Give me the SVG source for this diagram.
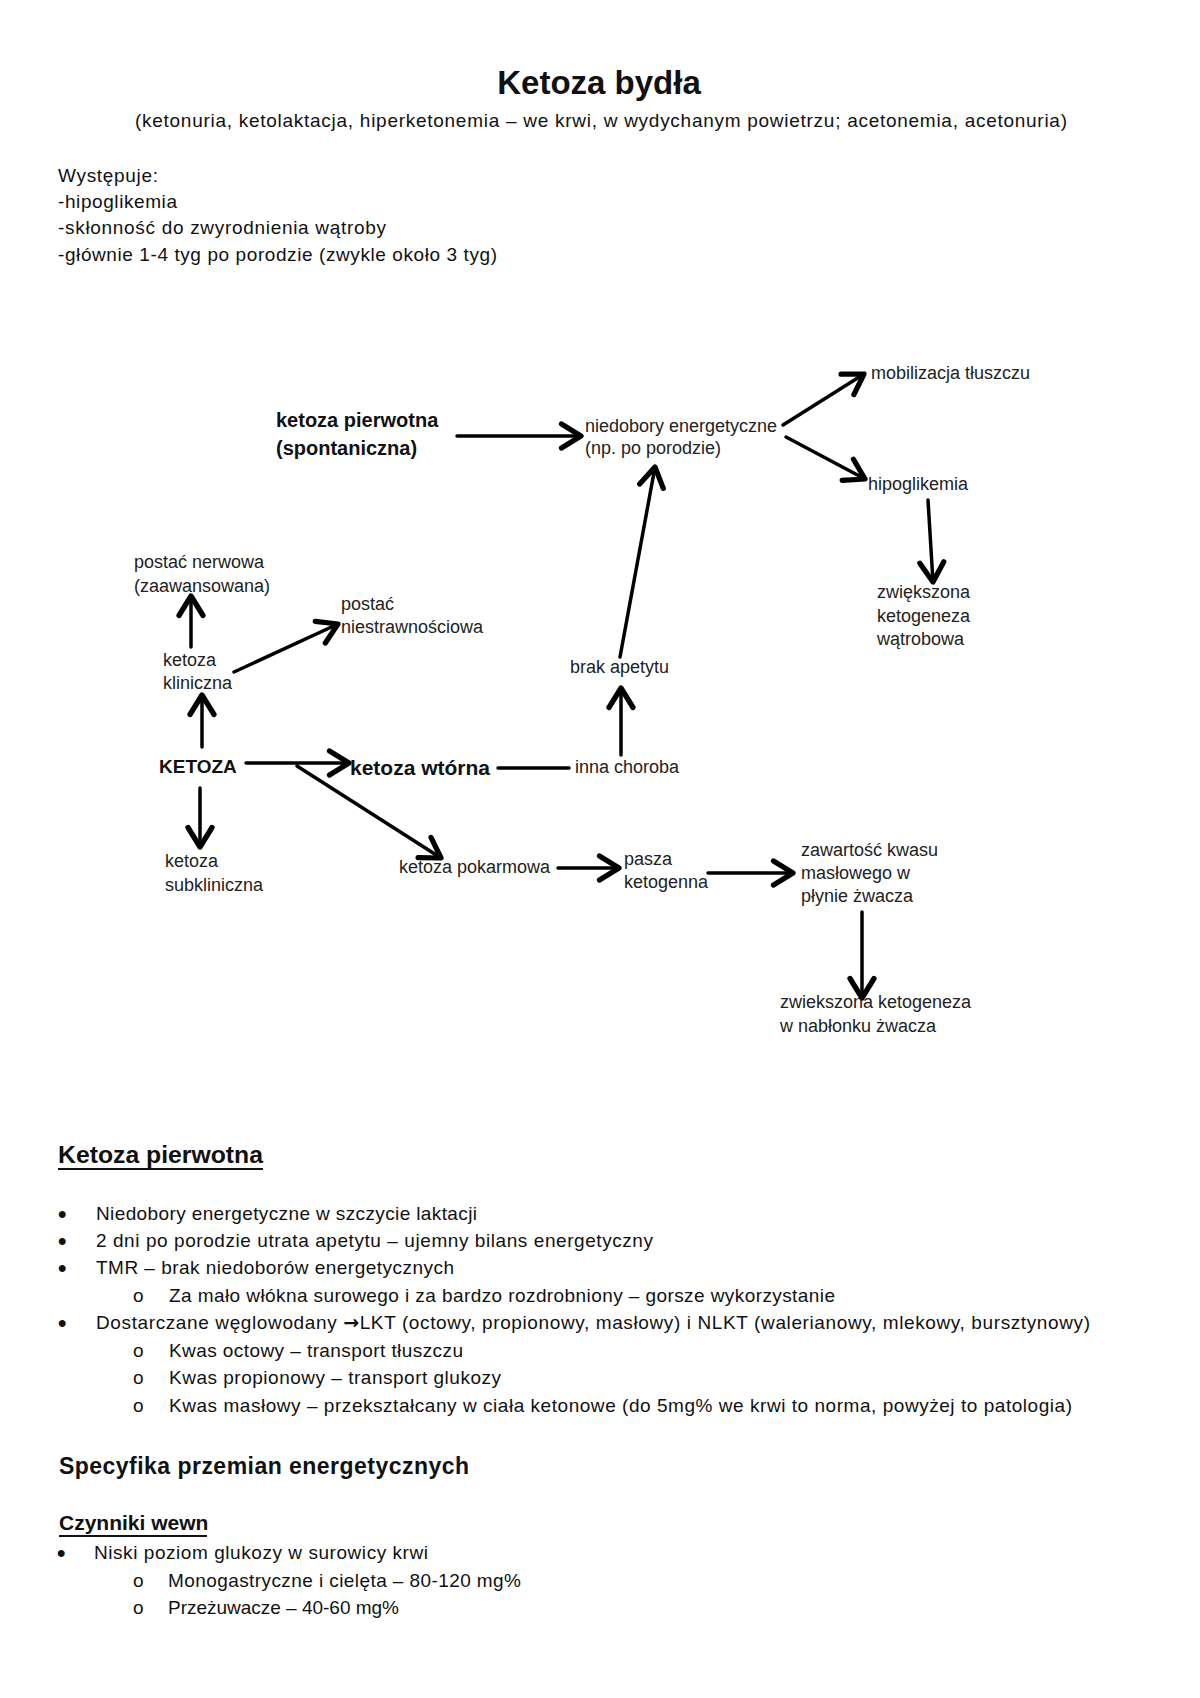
<svg xmlns="http://www.w3.org/2000/svg" width="1200" height="1698" viewBox="0 0 1200 1698">
<style>
text{font-family:"Liberation Sans",Arial,sans-serif;fill:#111}
.t{font-size:33px;font-weight:bold}
.b{font-size:19px}
.bu{font-size:24px;font-weight:bold}
.d{font-size:18px;fill:#222}
.db{font-size:20px;font-weight:bold}
.h{font-size:23.5px;font-weight:bold}
.ar{font-family:"DejaVu Sans",sans-serif;font-weight:bold;font-size:19px}
.c line{stroke:#000;stroke-width:3.5;stroke-linecap:round;fill:none}
.u{stroke:#111;stroke-width:2}
</style>
<defs>
<marker id="ah" markerUnits="userSpaceOnUse" markerWidth="30" markerHeight="30" refX="0" refY="0" viewBox="-16 -10 20 20" orient="auto" overflow="visible">
<path d="M-13,-8 L0,0 L-13,8" fill="none" stroke="#000" stroke-width="3.5" stroke-linecap="round" stroke-linejoin="round"/>
</marker>
</defs>
<rect width="1200" height="1698" fill="#fff"/>

<g id="header">
<text class="t" x="599" y="94" text-anchor="middle">Ketoza bydła</text>
<text class="b" x="135" y="127" textLength="932">(ketonuria, ketolaktacja, hiperketonemia – we krwi, w wydychanym powietrzu; acetonemia, acetonuria)</text>
<text class="b" x="58" y="182" textLength="100">Występuje:</text>
<text class="b" x="58" y="208" textLength="119">-hipoglikemia</text>
<text class="b" x="58" y="234" textLength="328">-skłonność do zwyrodnienia wątroby</text>
<text class="b" x="58" y="261" textLength="439">-głównie 1-4 tyg po porodzie (zwykle około 3 tyg)</text>
</g>

<g class="c" id="connectors">
<line x1="457" y1="436" x2="581" y2="436" marker-end="url(#ah)"/>
<line x1="783" y1="425" x2="864" y2="374" marker-end="url(#ah)"/>
<line x1="786" y1="437" x2="865" y2="479" marker-end="url(#ah)"/>
<line x1="928" y1="500" x2="933" y2="582" marker-end="url(#ah)"/>
<line x1="620" y1="657" x2="655" y2="467" marker-end="url(#ah)"/>
<line x1="621" y1="755" x2="621" y2="688" marker-end="url(#ah)"/>
<line x1="498" y1="768" x2="569" y2="768"/>
<line x1="246" y1="763" x2="349" y2="763" marker-end="url(#ah)"/>
<line x1="202" y1="747" x2="202" y2="695" marker-end="url(#ah)"/>
<line x1="191" y1="647" x2="191" y2="596" marker-end="url(#ah)"/>
<line x1="234" y1="672" x2="338" y2="624" marker-end="url(#ah)"/>
<line x1="200" y1="788" x2="200" y2="847" marker-end="url(#ah)"/>
<line x1="297" y1="766" x2="441" y2="858" marker-end="url(#ah)"/>
<line x1="558" y1="868" x2="619" y2="868" marker-end="url(#ah)"/>
<line x1="708" y1="873" x2="793" y2="873" marker-end="url(#ah)"/>
<line x1="862" y1="912" x2="862" y2="998" marker-end="url(#ah)"/>
</g>

<g id="n-pierwotna"><text class="db" x="276" y="427">ketoza pierwotna</text><text class="db" x="276" y="455">(spontaniczna)</text></g>
<g id="n-niedobory"><text class="d" x="585" y="432">niedobory energetyczne</text><text class="d" x="585" y="454">(np. po porodzie)</text></g>
<g id="n-mobilizacja"><text class="d" x="871" y="379">mobilizacja tłuszczu</text></g>
<g id="n-hipoglikemia"><text class="d" x="868" y="490">hipoglikemia</text></g>
<g id="n-watrobowa"><text class="d" x="877" y="598">zwiększona</text><text class="d" x="877" y="622">ketogeneza</text><text class="d" x="877" y="645">wątrobowa</text></g>
<g id="n-apetyt"><text class="d" x="570" y="673">brak apetytu</text></g>
<g id="n-nerwowa"><text class="d" x="134" y="568">postać nerwowa</text><text class="d" x="134" y="592">(zaawansowana)</text></g>
<g id="n-niestrawnosciowa"><text class="d" x="341" y="610">postać</text><text class="d" x="341" y="633">niestrawnościowa</text></g>
<g id="n-kliniczna"><text class="d" x="163" y="666">ketoza</text><text class="d" x="163" y="689">kliniczna</text></g>
<g id="n-ketoza"><text class="db" x="159" y="773" style="font-size:19px">KETOZA</text></g>
<g id="n-wtorna"><text class="db" x="350" y="775" style="font-size:21px">ketoza wtórna</text></g>
<g id="n-choroba"><text class="d" x="575" y="773">inna choroba</text></g>
<g id="n-subkliniczna"><text class="d" x="165" y="867">ketoza</text><text class="d" x="165" y="891">subkliniczna</text></g>
<g id="n-pokarmowa"><text class="d" x="399" y="873">ketoza pokarmowa</text></g>
<g id="n-pasza"><text class="d" x="624" y="865">pasza</text><text class="d" x="624" y="888">ketogenna</text></g>
<g id="n-maslowy"><text class="d" x="801" y="856">zawartość kwasu</text><text class="d" x="801" y="879">masłowego w</text><text class="d" x="801" y="902">płynie żwacza</text></g>
<g id="n-zwacz"><text class="d" x="780" y="1008">zwiekszona ketogeneza</text><text class="d" x="780" y="1032">w nabłonku żwacza</text></g>

<g id="body">
<text class="h" x="58" y="1163" textLength="205" lengthAdjust="spacingAndGlyphs">Ketoza pierwotna</text>
<line class="u" x1="58" y1="1169" x2="263" y2="1169"/>
<text class="bu" x="58" y="1222">•</text><text class="b" x="96" y="1220" textLength="381">Niedobory energetyczne w szczycie laktacji</text>
<text class="bu" x="58" y="1249">•</text><text class="b" x="96" y="1247" textLength="557">2 dni po porodzie utrata apetytu – ujemny bilans energetyczny</text>
<text class="bu" x="58" y="1276">•</text><text class="b" x="96" y="1274" textLength="358">TMR – brak niedoborów energetycznych</text>
<text class="b" x="133" y="1302">o</text><text class="b" x="169" y="1302" textLength="666">Za mało włókna surowego i za bardzo rozdrobniony – gorsze wykorzystanie</text>
<text class="bu" x="58" y="1331">•</text><text class="b" x="96" y="1329" textLength="994">Dostarczane węglowodany <tspan class="ar">→</tspan>LKT (octowy, propionowy, masłowy) i NLKT (walerianowy, mlekowy, bursztynowy)</text>
<text class="b" x="133" y="1357">o</text><text class="b" x="169" y="1357" textLength="294">Kwas octowy – transport tłuszczu</text>
<text class="b" x="133" y="1384">o</text><text class="b" x="169" y="1384" textLength="332">Kwas propionowy – transport glukozy</text>
<text class="b" x="133" y="1412">o</text><text class="b" x="169" y="1412" textLength="903">Kwas masłowy – przekształcany w ciała ketonowe (do 5mg% we krwi to norma, powyżej to patologia)</text>

<text class="h" x="59" y="1474" textLength="410" style="font-size:23px">Specyfika przemian energetycznych</text>
<text class="h" x="59" y="1530" style="font-size:21px">Czynniki wewn</text>
<line class="u" x1="59" y1="1536" x2="207" y2="1536"/>
<text class="bu" x="57" y="1561">•</text><text class="b" x="94" y="1559" textLength="334">Niski poziom glukozy w surowicy krwi</text>
<text class="b" x="133" y="1587">o</text><text class="b" x="168" y="1587" textLength="353">Monogastryczne i cielęta – 80-120 mg%</text>
<text class="b" x="133" y="1614">o</text><text class="b" x="168" y="1614" textLength="231">Przeżuwacze – 40-60 mg%</text>
</g>
</svg>
